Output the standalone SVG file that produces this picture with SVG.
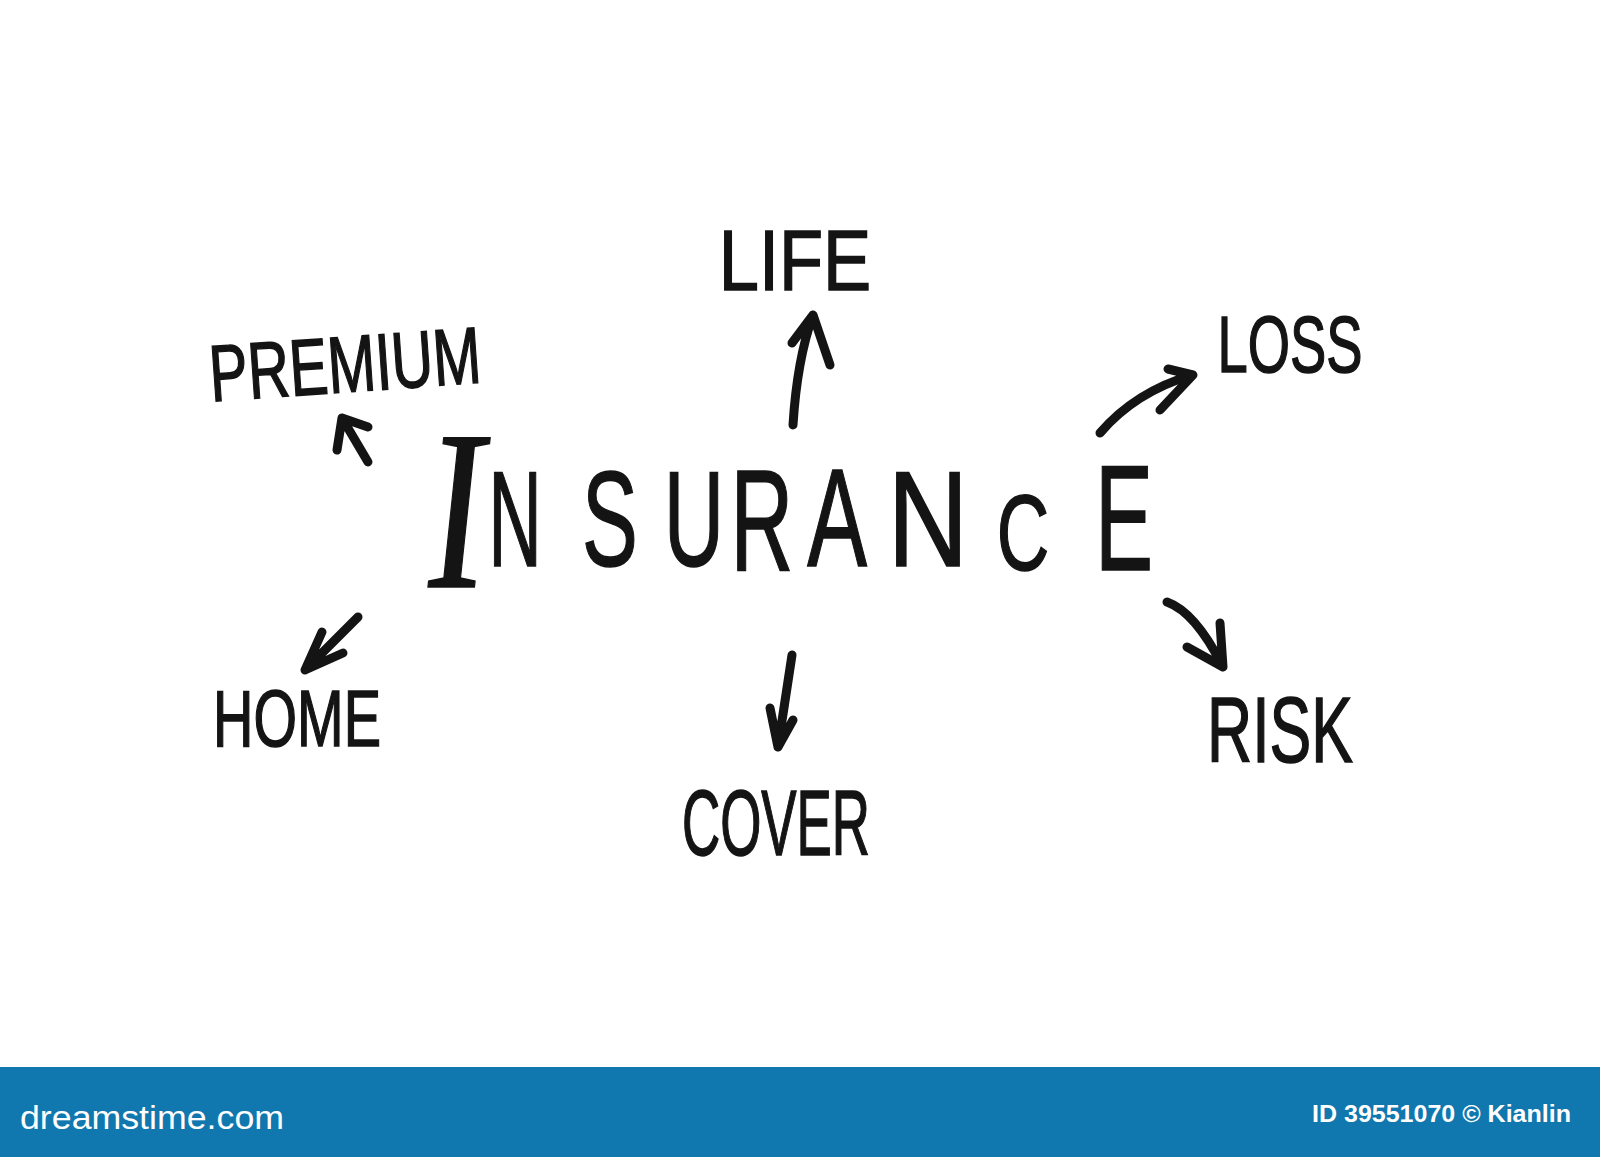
<svg xmlns="http://www.w3.org/2000/svg" width="1600" height="1157" viewBox="0 0 1600 1157">
<style>
.hw{font-family:"Liberation Sans",Arial,sans-serif;fill:#141414;stroke:#141414;stroke-width:1.5;text-anchor:middle}
.arr{fill:none;stroke:#141414;stroke-width:9;stroke-linecap:round;stroke-linejoin:round}
.ban{font-family:"Liberation Sans",Arial,sans-serif;fill:#ffffff}
</style>
<rect x="0" y="0" width="1600" height="1157" fill="#ffffff"/>
<g id="node-insurance">
<text class="hw" font-family="Liberation Serif" style="font-family:'Liberation Serif',serif" font-size="228" transform="translate(451,587) skewX(-6) scale(0.78,1)">I</text>
<text class="hw" font-size="135" transform="translate(515,566) scale(0.55,1)">N</text>
<text class="hw" font-size="135" transform="translate(610,566) scale(0.62,1)">S</text>
<text class="hw" font-size="135" transform="translate(694,566) scale(0.62,1)">U</text>
<text class="hw" font-size="145" transform="translate(762,570) scale(0.6,1)">R</text>
<text class="hw" font-size="140" transform="translate(837,566) scale(0.64,1)">A</text>
<text class="hw" font-size="135" transform="translate(928,566) scale(0.83,1)">N</text>
<text class="hw" font-size="107" transform="translate(1023,570) scale(0.68,1)">C</text>
<text class="hw" font-size="150" transform="translate(1124,570) scale(0.58,1)">E</text>
</g>
<g id="node-life"><text class="hw" font-size="86" transform="translate(795,290) scale(0.84,1)">LIFE</text></g>
<g id="node-premium"><text class="hw" font-size="80" transform="translate(347,392) rotate(-4) scale(0.72,1)">PREMIUM</text></g>
<g id="node-loss"><text class="hw" font-size="80" transform="translate(1290,372) scale(0.68,1)">LOSS</text></g>
<g id="node-home"><text class="hw" font-size="80" transform="translate(297,746) scale(0.7,1)">HOME</text></g>
<g id="node-cover"><text class="hw" font-size="92" transform="translate(776,855) scale(0.575,1)">COVER</text></g>
<g id="node-risk"><text class="hw" font-size="92" transform="translate(1280,762) scale(0.68,1)">RISK</text></g>
<g id="connectors">
<path class="arr" d="M368,462 L342,418 M337,450 L342,418 L368,427"/>
<path class="arr" d="M793,425 Q797,360 813,315 M792,343 L813,315 L830,365"/>
<path class="arr" d="M1100,433 Q1135,392 1192,375 M1168,369 L1193,375 L1160,410"/>
<path class="arr" d="M1167,602 Q1195,612 1222,665 M1187,647 L1223,667 L1220,623"/>
<path class="arr" d="M358,617 L305,670 M322,632 L305,670 L343,653"/>
<path class="arr" d="M792,655 L778,747 M770,708 L778,747 L793,720"/>
</g>
<g id="banner">
<rect x="0" y="1067" width="1600" height="90" fill="#1078ae"/>
<text class="ban" x="20" y="1129" font-size="34" textLength="264" lengthAdjust="spacingAndGlyphs">dreamstime.com</text>
<text class="ban" x="1312" y="1122" font-size="23" font-weight="bold" textLength="259" lengthAdjust="spacingAndGlyphs">ID 39551070 © Kianlin</text>
</g>
</svg>
